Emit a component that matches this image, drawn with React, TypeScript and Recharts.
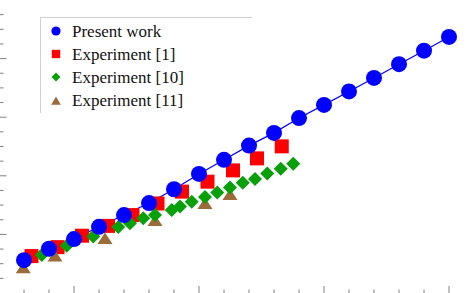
import { ComposedChart, Line, Scatter, XAxis, YAxis, Legend } from 'recharts';

// series values
const presentX = [1, 2, 3, 4, 5, 6, 7, 8, 9, 10, 11, 12, 13, 14, 15, 16, 17, 18];
const presentY = [2.24, 3.02, 3.68, 4.52, 5.32, 6.14, 7.08, 8.13, 9.09, 10.06, 10.93, 11.94, 12.84, 13.76, 14.68, 15.62, 16.54, 17.48];

const exp1X = [1.3, 2.34, 3.32, 4.36, 5.34, 6.34, 7.32, 8.34, 9.36, 10.32, 11.31];
const exp1Y = [2.52, 3.13, 3.91, 4.58, 5.32, 6.11, 6.92, 7.6, 8.37, 9.19, 10.01];

const exp10X = [1.71, 2.71, 3.77, 4.77, 5.24, 5.77, 6.24, 6.91, 7.24, 7.71, 8.24, 8.73, 9.24, 9.75, 10.24, 10.73, 11.27, 11.77];
const exp10Y = [2.59, 3.22, 3.85, 4.5, 4.76, 5.1, 5.32, 5.67, 5.9, 6.23, 6.56, 6.86, 7.2, 7.53, 7.79, 8.15, 8.48, 8.83];

const exp11X = [0.97, 2.24, 4.24, 6.24, 8.24, 9.24];
const exp11Y = [1.73, 2.52, 3.72, 4.95, 6.11, 6.73];

const xTicks = [1, 2, 3, 4, 5, 6, 7, 8, 9, 10, 11, 12, 13, 14, 15, 16, 17, 18];
const xMajor = [3, 8, 13, 18];
const yTicks = [1, 2, 3, 4, 5, 6, 7, 8, 9, 10, 11, 12, 13, 14, 15, 16, 17, 18, 19];
const yMajor = [4, 8, 12, 16];

const legendNames = ['Present work', 'Experiment [1]', 'Experiment [10]', 'Experiment [11]'];

const toPoints = (xs: number[], ys: number[]) => xs.map((x, i) => ({ x, y: ys[i] }));

const present = toPoints(presentX, presentY);
const exp1 = toPoints(exp1X, exp1Y);
const exp10 = toPoints(exp10X, exp10Y);
const exp11 = toPoints(exp11X, exp11Y);

const BLUE = '#0000ff';
const RED = '#ff0000';
const GREEN = '#08a008';
const BROWN = '#9c6b3a';
const TICK = '#808080';

const XTick = (p: any) => {
  const len = xMajor.includes(p.payload.value) ? 7 : 3.5;
  return <line x1={p.x} x2={p.x} y1={p.y} y2={p.y - len} stroke={TICK} />;
};

const YTick = (p: any) => {
  const len = yMajor.includes(p.payload.value) ? 6.5 : 3.5;
  return <line x1={p.x} x2={p.x + len} y1={p.y} y2={p.y} stroke={TICK} />;
};

const BlueDot = (p: any) => <circle key={p.index} cx={p.cx} cy={p.cy} r={8} fill={BLUE} />;
const Square = (p: any) => <rect x={p.cx - 7} y={p.cy - 7} width={14} height={14} fill={RED} />;
const Diamond = (p: any) => (
  <polygon points={`${p.cx},${p.cy - 7} ${p.cx + 7},${p.cy} ${p.cx},${p.cy + 7} ${p.cx - 7},${p.cy}`} fill={GREEN} />
);
const Triangle = (p: any) => (
  <polygon points={`${p.cx},${p.cy - 6} ${p.cx + 7.5},${p.cy + 5.5} ${p.cx - 7.5},${p.cy + 5.5}`} fill={BROWN} />
);

const markers = [
  <circle cx={8} cy={8} r={4.6} fill={BLUE} />,
  <rect x={3.8} y={3.8} width={8.4} height={8.4} fill={RED} />,
  <polygon points="8,3.5 12.5,8 8,12.5 3.5,8" fill={GREEN} />,
  <polygon points="8,3.5 12.8,11.8 3.2,11.8" fill={BROWN} />,
];

const LegendBox = () => (
  <div
    style={{
      position: 'relative',
      width: 212,
      height: 96,
      borderTop: '1px solid #d0d0d0',
      borderLeft: '1px solid #d0d0d0',
      boxSizing: 'border-box',
      fontFamily: "'Liberation Serif', 'DejaVu Serif', serif",
      fontSize: 17,
      color: '#111',
    }}
  >
    {legendNames.map((name, i) => (
      <div key={name} style={{ position: 'absolute', left: 0, top: 1.5 + i * 23.2, height: 23, width: 212 }}>
        <svg width={16} height={16} style={{ position: 'absolute', left: 7, top: 3.5 }}>
          {markers[i]}
        </svg>
        <span style={{ position: 'absolute', left: 31, top: 0, lineHeight: '23px', whiteSpace: 'nowrap' }}>{name}</span>
      </div>
    ))}
  </div>
);

export default function App() {
  return (
    <div style={{ position: 'absolute', left: 0, top: 0, width: 474, height: 293, background: '#fff' }}>
      <ComposedChart width={474} height={293} margin={{ top: 0, right: 0, bottom: -1, left: -1 }}>
        <XAxis
          type="number"
          dataKey="x"
          domain={[0.04, 19]}
          allowDataOverflow
          ticks={xTicks}
          interval={0}
          height={1}
          axisLine={false}
          tickLine={false}
          tickSize={0}
          tickMargin={0}
          tick={XTick}
        />
        <YAxis
          type="number"
          dataKey="y"
          domain={[0, 20]}
          allowDataOverflow
          ticks={yTicks}
          interval={0}
          width={1}
          axisLine={false}
          tickLine={false}
          tickSize={0}
          tickMargin={0}
          tick={YTick}
        />
        <Legend
          layout="vertical"
          align="center"
          verticalAlign="middle"
          wrapperStyle={{ top: 17, left: 40, width: 212, height: 96 }}
          content={LegendBox}
        />
        <Line
          data={exp1}
          dataKey="y"
          stroke="#ff9a2e"
          strokeWidth={1}
          strokeDasharray="3 24.7"
          strokeDashoffset={10}
          dot={false}
          activeDot={false}
          isAnimationActive={false}
        />
        <Scatter data={exp1} dataKey="y" shape={Square} isAnimationActive={false} />
        <Scatter data={exp11} dataKey="y" shape={Triangle} isAnimationActive={false} />
        <Scatter data={exp10} dataKey="y" shape={Diamond} isAnimationActive={false} />
        <Line
          data={present}
          dataKey="y"
          type="linear"
          stroke={BLUE}
          strokeWidth={1.2}
          dot={BlueDot}
          activeDot={false}
          isAnimationActive={false}
        />
      </ComposedChart>
    </div>
  );
}
